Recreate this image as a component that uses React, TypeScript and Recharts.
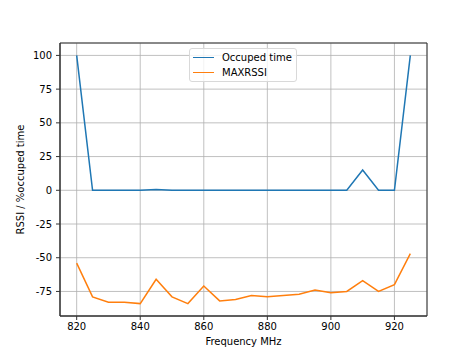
import {
  CartesianGrid,
  Label,
  Line,
  LineChart,
  ReferenceArea,
  XAxis,
  YAxis,
} from "recharts";

const frequencies = [
  820, 825, 830, 835, 840, 845, 850, 855, 860, 865, 870,
  875, 880, 885, 890, 895, 900, 905, 910, 915, 920, 925,
];
const occupiedTime = [
  100, 0, 0, 0, 0, 0.5, 0, 0, 0, 0, 0,
  0, 0, 0, 0, 0, 0, 0, 15, 0, 0, 100,
];
const maxRssi = [
  -54, -79, -83, -83, -84, -66, -79, -84, -71, -82, -81,
  -78, -79, -78, -77, -74, -76, -75, -67, -75, -70, -47,
];
const xTicks = [820, 840, 860, 880, 900, 920];
const yTicks = [-75, -50, -25, 0, 25, 50, 75, 100];

const seriesNames = ["Occuped time", "MAXRSSI"];
const colors = ["#1f77b4", "#ff7f0e"];

const data = frequencies.map((f, i) => ({
  freq: f,
  occ: occupiedTime[i],
  rssi: maxRssi[i],
}));

const xDomain: [number, number] = [814.75, 930.25];
const yDomain: [number, number] = [-93.2, 109.2];

const font = "'DejaVu Sans', sans-serif";

// matplotlib-style legend box, placed over the plot
function LegendBox() {
  return (
    <div
      style={{
        position: "absolute",
        left: 189,
        top: 48,
        boxSizing: "border-box",
        width: 108,
        height: 34,
        background: "rgba(255,255,255,0.8)",
        border: "1px solid #d9d9d9",
        borderRadius: 3,
        padding: "1px 0 0 3px",
        fontFamily: font,
        fontSize: 10,
        color: "#000",
        whiteSpace: "nowrap",
      }}
    >
      {seriesNames.map((name, i) => (
        <div key={name} style={{ display: "flex", alignItems: "center", height: 15 }}>
          <div style={{ width: 21, height: 1.5, background: colors[i], marginRight: 8 }} />
          <span>{name}</span>
        </div>
      ))}
    </div>
  );
}

export default function App() {
  return (
    <div style={{ position: "absolute", left: 0, top: 0, width: 474, height: 355, background: "#fff" }}>
      <LineChart
        width={474}
        height={355}
        data={data}
        margin={{ top: 43, right: 47, bottom: 0, left: 0 }}
        style={{ fontFamily: font }}
      >
        <CartesianGrid stroke="#b0b0b0" strokeWidth={0.8} />
        <XAxis
          dataKey="freq"
          type="number"
          domain={xDomain}
          ticks={xTicks}
          allowDataOverflow
          height={39}
          tickSize={4}
          tickMargin={3}
          tick={{ fontSize: 10, fill: "#000" }}
          stroke="#333"
        >
          <Label
            content={() => (
              <text x={243.5} y={345} textAnchor="middle" fontSize={10} fill="#000" fontFamily={font}>
                Frequency MHz
              </text>
            )}
          />
        </XAxis>
        <YAxis
          type="number"
          domain={yDomain}
          ticks={yTicks}
          allowDataOverflow
          width={60}
          tickSize={4}
          tickMargin={4}
          tick={{ fontSize: 10, fill: "#000" }}
          stroke="#333"
        >
          <Label
            content={() => (
              <text
                x={24}
                y={179.5}
                textAnchor="middle"
                fontSize={10}
                fill="#000"
                fontFamily={font}
                transform="rotate(-90 24 179.5)"
              >
                RSSI / %occuped time
              </text>
            )}
          />
        </YAxis>
        <ReferenceArea
          x1={xDomain[0]}
          x2={xDomain[1]}
          y1={yDomain[0]}
          y2={yDomain[1]}
          fill="none"
          stroke="#333"
          strokeWidth={1}
        />
        <Line
          dataKey="occ"
          stroke={colors[0]}
          strokeWidth={1.5}
          dot={false}
          isAnimationActive={false}
        />
        <Line
          dataKey="rssi"
          stroke={colors[1]}
          strokeWidth={1.5}
          dot={false}
          isAnimationActive={false}
        />
      </LineChart>
      <LegendBox />
    </div>
  );
}
